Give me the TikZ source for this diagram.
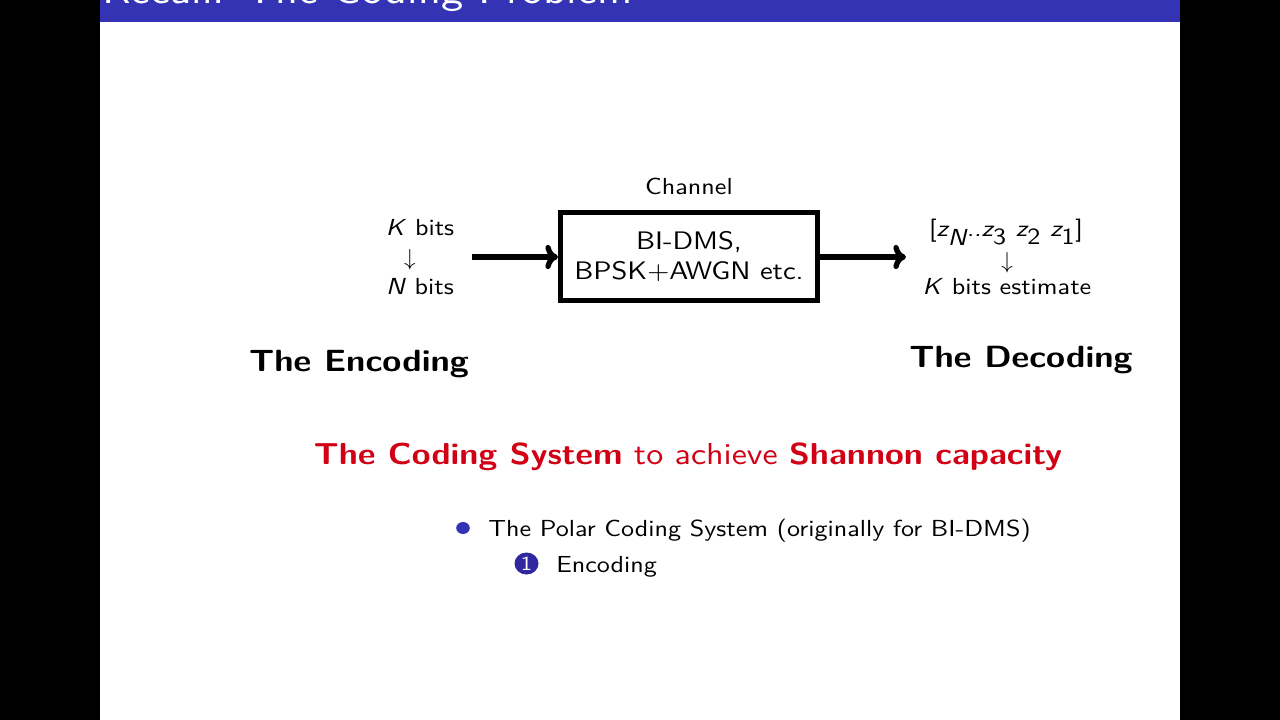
\documentclass[tikz,border=0pt]{standalone}
\usepackage{fontspec}
\setsansfont{lmsans10}[Extension=.otf, UprightFont=*-regular, BoldFont=*-bold, ItalicFont=*-oblique, BoldItalicFont=*-boldoblique]
\usepackage{graphicx}
\usetikzlibrary{arrows.meta}
\definecolor{bblue}{RGB}{51,51,179}
\definecolor{ballblue}{RGB}{48,40,160}
\definecolor{bred}{RGB}{210,0,20}
\newcommand{\sx}[1]{\scalebox{1.125}[1]{#1}}
\begin{document}
\begin{tikzpicture}[x=0.75pt,y=-0.75pt,
  txt/.style={font=\sffamily\fontsize{17.4}{21}\selectfont, inner sep=0pt, anchor=base},
  big/.style={font=\sffamily\bfseries\fontsize{23}{27}\selectfont, inner sep=0pt, anchor=base},
  conn/.style={line width=4pt, -{Computer Modern Rightarrow[length=9.5pt,width=18pt]}},
  ]
\useasboundingbox (0,0) rectangle (1280,720);
\fill[white] (0,0) rectangle (1280,720);
\begin{scope}
  \clip (100,0) rectangle (1180,22.5);
  \fill[bblue] (100,0) rectangle (1180,22.5);
  \node[font=\sffamily\fontsize{29.6}{35}\selectfont, text=white, inner sep=0pt, anchor=base west] (title) at (102,3.5) {\sx{Recall: The Coding Problem}};
\end{scope}
\fill[black] (0,0) rectangle (100,720);
\fill[black] (1180,0) rectangle (1280,720);

\node[txt] (chan) at (689,195) {\sx{Channel}};
\node[draw, line width=4pt, minimum width=192.5pt, minimum height=65.7pt, inner sep=0pt, align=center,
      font=\sffamily\fontsize{19}{23}\selectfont] (box) at (689,256.5) {\sx{BI-DMS,}\\\sx{BPSK+AWGN etc.}};

\node[txt] (kb) at (420,236) {\sx{\textit{K} bits}};
\node[txt, anchor=center] (ar1) at (410,260) {$\downarrow$};
\node[txt] (nb) at (420,294) {\sx{\textit{N} bits}};

\coordinate (inL) at (472,257);
\coordinate (outR) at (906,257);
\draw[conn] (inL) -- (inL -| box.west);
\draw[conn] (outR -| box.east) -- (outR);

\node[txt] (zs) at (1006,237) {\sx{[$\textit{z}_{\textit{N}}$..$\textit{z}_{\textup{3}}$\hspace{0.35em}$\textit{z}_{\textup{2}}$\hspace{0.35em}$\textit{z}_{\textup{1}}$]}};
\node[txt, anchor=center] (ar2) at (1007,263) {$\downarrow$};
\node[txt] (kbe) at (1007,294) {\sx{\textit{K} bits estimate}};

\node[big] (enc) at (359,371) {\sx{The Encoding}};
\node[big] (dec) at (1021,367) {\sx{The Decoding}};

\node[big, font=\sffamily\mdseries\fontsize{22.7}{27}\selectfont, text=bred] (goal) at (688,464)
  {\sx{{\bfseries The Coding System} to achieve {\bfseries Shannon capacity}}};

\fill[bblue] (463,528) ellipse [x radius=6.8, y radius=6];
\node[txt, anchor=base west] (pol) at (488,536) {\sx{The Polar Coding System (originally for BI-DMS)}};
\fill[ballblue] (526.5,563.5) ellipse [x radius=12, y radius=11];
\node[font=\sffamily\fontsize{15}{17}\selectfont, text=white, inner sep=0pt] (one) at (526.5,564) {\sx{1}};
\node[txt, anchor=base west] (encl) at (556,572) {\sx{Encoding}};
\end{tikzpicture}
\end{document}
